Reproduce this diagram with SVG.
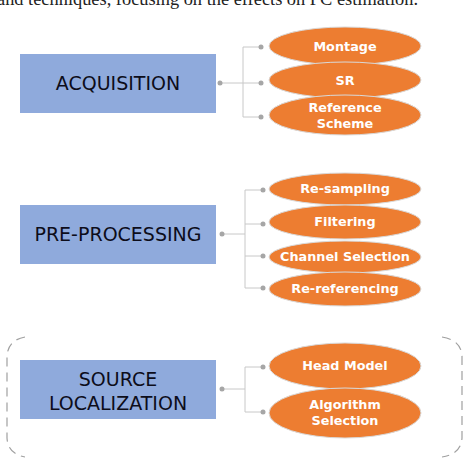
<svg xmlns="http://www.w3.org/2000/svg" width="474" height="465" viewBox="0 0 474 465">
<style>
.box{fill:#8faadc;}
.btxt{font-family:"DejaVu Sans",Verdana,sans-serif;font-size:19px;fill:#0d0d1a;text-anchor:middle;}
.ell{fill:#ed7d31;stroke:#d9d9d9;stroke-width:1;}
.etxt{font-family:"DejaVu Sans",Verdana,sans-serif;font-weight:bold;font-size:12.8px;fill:#ffffff;text-anchor:middle;}
.ln{stroke:#c8c8c8;stroke-width:1;fill:none;}
.dot{fill:#a6a6a6;}
.brk{stroke:#a0a0a0;stroke-width:1.2;fill:none;stroke-dasharray:9,6;}
.cap{font-family:"Liberation Serif","Times New Roman",serif;font-size:18.5px;fill:#222222;}
</style>
<rect width="474" height="465" fill="#ffffff"/>
<text class="cap" x="-3" y="5" textLength="421" lengthAdjust="spacingAndGlyphs">and techniques, focusing on the effects on PC estimation.</text>

<g id="connectors">
  <path class="ln" d="M220 83 H243 M243 47 V117 M243 47 H261 M243 83 H261 M243 117 H261"/>
  <path class="ln" d="M222 234 H245 M245 190 V288 M245 190 H263 M245 224 H263 M245 256 H263 M245 288 H263"/>
  <path class="ln" d="M222 389 H245 M245 367 V412 M245 367 H263 M245 412 H263"/>
  <circle class="dot" cx="220" cy="83" r="2.5"/>
  <circle class="dot" cx="261" cy="47" r="2.5"/>
  <circle class="dot" cx="261" cy="83" r="2.5"/>
  <circle class="dot" cx="261" cy="117" r="2.5"/>
  <circle class="dot" cx="222" cy="234" r="2.5"/>
  <circle class="dot" cx="263" cy="190" r="2.5"/>
  <circle class="dot" cx="263" cy="224" r="2.5"/>
  <circle class="dot" cx="263" cy="256" r="2.5"/>
  <circle class="dot" cx="263" cy="288" r="2.5"/>
  <circle class="dot" cx="222" cy="389" r="2.5"/>
  <circle class="dot" cx="263" cy="367" r="2.5"/>
  <circle class="dot" cx="263" cy="412" r="2.5"/>
</g>

<g id="bracket">
  <path class="brk" d="M25 337 Q8 340 7 356 V438 Q8 454 25 457"/>
  <path class="brk" d="M442 337 Q461 340 462 356 V438 Q461 454 442 457"/>
</g>

<g id="acquisition">
  <rect class="box" x="20" y="54" width="196" height="59"/>
  <text class="btxt" x="118" y="90">ACQUISITION</text>
</g>
<g id="montage">
  <ellipse class="ell" cx="345" cy="46" rx="76" ry="19"/>
  <text class="etxt" x="345" y="51">Montage</text>
</g>
<g id="sr">
  <ellipse class="ell" cx="345" cy="80" rx="76" ry="18"/>
  <text class="etxt" x="345" y="85">SR</text>
</g>
<g id="reference-scheme">
  <ellipse class="ell" cx="345" cy="115" rx="76" ry="20"/>
  <text class="etxt" x="345" y="112">Reference</text>
  <text class="etxt" x="345" y="128">Scheme</text>
</g>

<g id="pre-processing">
  <rect class="box" x="20" y="205" width="196" height="59"/>
  <text class="btxt" x="118" y="241">PRE-PROCESSING</text>
</g>
<g id="re-sampling">
  <ellipse class="ell" cx="345" cy="189" rx="76" ry="16"/>
  <text class="etxt" x="345" y="193">Re-sampling</text>
</g>
<g id="filtering">
  <ellipse class="ell" cx="345" cy="222" rx="76" ry="17"/>
  <text class="etxt" x="345" y="226">Filtering</text>
</g>
<g id="channel-selection">
  <ellipse class="ell" cx="345" cy="257" rx="76" ry="16"/>
  <text class="etxt" x="345" y="261">Channel Selection</text>
</g>
<g id="re-referencing">
  <ellipse class="ell" cx="345" cy="289" rx="76" ry="17"/>
  <text class="etxt" x="345" y="293">Re-referencing</text>
</g>

<g id="source-localization">
  <rect class="box" x="20" y="360" width="196" height="59"/>
  <text class="btxt" x="118" y="386">SOURCE</text>
  <text class="btxt" x="118" y="410">LOCALIZATION</text>
</g>
<g id="head-model">
  <ellipse class="ell" cx="345" cy="366" rx="76" ry="23"/>
  <text class="etxt" x="345" y="370">Head Model</text>
</g>
<g id="algorithm-selection">
  <ellipse class="ell" cx="345" cy="413" rx="76" ry="25"/>
  <text class="etxt" x="345" y="409">Algorithm</text>
  <text class="etxt" x="345" y="425">Selection</text>
</g>
</svg>
